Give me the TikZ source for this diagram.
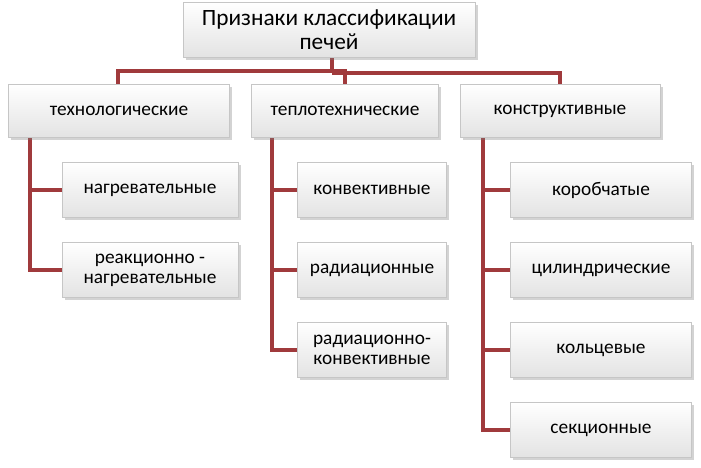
\documentclass[tikz,border=0pt]{standalone}
\usepackage{fontspec}
\setmainfont{Carlito}
\usetikzlibrary{shadows}
\definecolor{linkred}{HTML}{A03A3C}
\tikzset{
    box/.style={draw=gray!45, top color=white, bottom color=gray!22,
        drop shadow={shadow xshift=2pt, shadow yshift=-2pt, opacity=0.35},
        align=center, inner sep=1pt, font=\fontsize{14.5}{15}\selectfont},
    link/.style={draw=linkred, line width=2.6pt}
}
\begin{document}
\begin{tikzpicture}[x=0.75pt, y=-0.75pt]
    \useasboundingbox (0, 0) rectangle (701, 468);
    % links
    \draw [link] (332, 58) -- (332, 72);
    \draw [link] (118, 84) -- (118, 71) -- (345, 71) -- (345, 84);
    \draw [link] (332, 73) -- (560, 73) -- (560, 84);
    \draw [link] (30, 138) -- (30, 270) -- (62, 270);
    \draw [link] (30, 190) -- (62, 190);
    \draw [link] (272, 138) -- (272, 350) -- (297, 350);
    \foreach \y in {190, 270}
        \draw [link] (272, \y) -- (297, \y);
    \draw [link] (483, 138) -- (483, 430) -- (510, 430);
    \foreach \y in {190, 270, 350}
        \draw [link] (483, \y) -- (510, \y);
    % boxes
    \node [box, minimum width=219pt, minimum height=41pt, font=\fontsize{17.5}{18}\selectfont]
        (root) at (329, 30) {Признаки классификации\\печей};
    \node [box, minimum width=166pt, minimum height=40pt] (tech) at (119, 111) {технологические};
    \node [box, minimum width=140pt, minimum height=40pt] (heat) at (345, 111) {теплотехнические};
    \node [box, minimum width=150pt, minimum height=40pt] (cons) at (560, 111) {конструктивные};
    \node [box, minimum width=132pt, minimum height=41pt] (t1) at (150, 190) {нагревательные};
    \node [box, minimum width=132pt, minimum height=41pt] (t2) at (150, 270) {реакционно -\\нагревательные};
    \node [box, minimum width=112pt, minimum height=41pt] (h1) at (372, 190) {конвективные};
    \node [box, minimum width=112pt, minimum height=41pt] (h2) at (372, 270) {радиационные};
    \node [box, minimum width=112pt, minimum height=41pt] (h3) at (372, 350) {радиационно-\\конвективные};
    \node [box, minimum width=136pt, minimum height=41pt] (c1) at (601, 190) {коробчатые};
    \node [box, minimum width=136pt, minimum height=41pt] (c2) at (601, 270) {цилиндрические};
    \node [box, minimum width=136pt, minimum height=41pt] (c3) at (601, 350) {кольцевые};
    \node [box, minimum width=136pt, minimum height=41pt] (c4) at (601, 430) {секционные};
\end{tikzpicture}
\end{document}
